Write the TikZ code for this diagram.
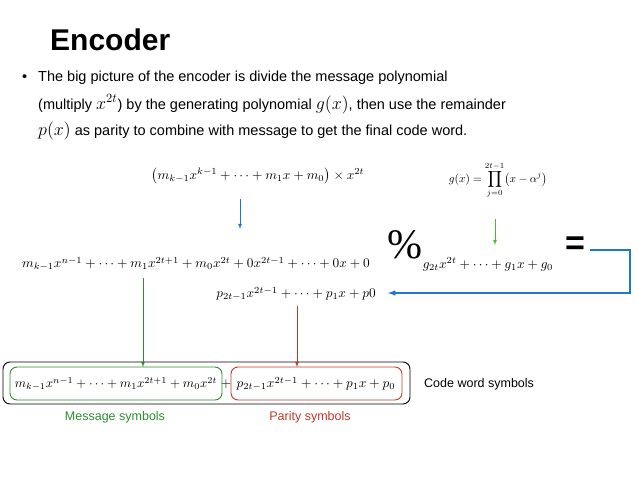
\documentclass[tikz,border=0pt]{standalone}
\usepackage{amsmath}
\usepackage{fontspec}
\setmainfont{Liberation Sans}
\newfontfamily\serifpct{Liberation Serif}
\begin{document}
\begin{tikzpicture}[x=1pt,y=-1pt,
  txt/.style={inner sep=0pt,anchor=west,font=\fontsize{14.5}{17}\selectfont},
  eq/.style={inner sep=1pt,scale=1.33},
  arr/.style={-{latex},line width=0.8pt},
  rbox/.style={rounded corners=7pt,line width=0.9pt}]
\definecolor{myblue}{HTML}{1F78C8}
\definecolor{mygreen}{HTML}{2E8B2E}
\definecolor{lgreen}{HTML}{4CB82E}
\definecolor{myred}{HTML}{C0392B}
\useasboundingbox (0,0) rectangle (638,479);
\node[anchor=west,inner sep=0pt,font=\fontsize{30}{34}\bfseries] (title) at (50,40) {Encoder};
\node[txt] (b) at (22,78) {\textbullet};
\node[txt] (l1) at (38,78) {The big picture of the encoder is divide the message polynomial};
\node[txt] (l2) at (38,104) {(multiply \scalebox{1.25}{$x^{2t}$}) by the generating polynomial \scalebox{1.25}{$g(x)$}, then use the remainder};
\node[txt] (l3) at (38,131) {\scalebox{1.25}{$p(x)$} as parity to combine with message to get the final code word.};
\node[eq] (top) at (258,176) {$\bigl(m_{k-1}x^{k-1}+\cdots+m_1x+m_0\bigr)\times x^{2t}$};
\node[eq,scale=0.85] (gx) at (498,180) {$g(x)=\displaystyle\prod_{j=0}^{2t-1}\bigl(x-\alpha^{j}\bigr)$};
\node[eq] (row) at (196,264) {$m_{k-1}x^{n-1}+\cdots+m_1x^{2t+1}+m_0x^{2t}+0x^{2t-1}+\cdots+0x+0$};
\node[inner sep=0pt,font=\fontsize{42}{44}\serifpct] (pct) at (405,245) {\%};
\node[eq] (grow) at (488,264) {$g_{2t}x^{2t}+\cdots+g_1x+g_0$};
\node[inner sep=0pt,font=\fontsize{34}{36}\bfseries] (equ) at (575,246) {=};
\node[eq] (prow) at (296,294) {$p_{2t-1}x^{2t-1}+\cdots+p_1x+p0$};
\draw[arr,myblue] (240,199) -- (240,229);
\draw[arr,lgreen] (495,219) -- (495,245);
\draw[myblue,line width=1.5pt,-{latex}] (590,250) -- (630,250) -- (630,293) -- (388,293);
\node[eq,scale=0.97] (msg) at (116,384) {$m_{k-1}x^{n-1}+\cdots+m_1x^{2t+1}+m_0x^{2t}$};
\node[eq] (plus) at (226,384) {$+$};
\node[eq] (par) at (316,384) {$p_{2t-1}x^{2t-1}+\cdots+p_1x+p_0$};
\draw[rbox] (3,362) rectangle (410,404);
\draw[rbox,mygreen] (10,367) rectangle (222,400);
\draw[rbox,myred] (231,367) rectangle (402,400);
\draw[arr,mygreen] (143,278) -- (143,367);
\draw[arr,myred] (297,306) -- (297,367);
\node[txt,font=\fontsize{12.5}{14}\selectfont] (cw) at (424,384) {Code word symbols};
\node[inner sep=0pt,font=\fontsize{12.5}{14}\selectfont,text=mygreen] (ms) at (115,417) {Message symbols};
\node[inner sep=0pt,font=\fontsize{12.5}{14}\selectfont,text=myred] (ps) at (310,417) {Parity symbols};
\end{tikzpicture}
\end{document}
